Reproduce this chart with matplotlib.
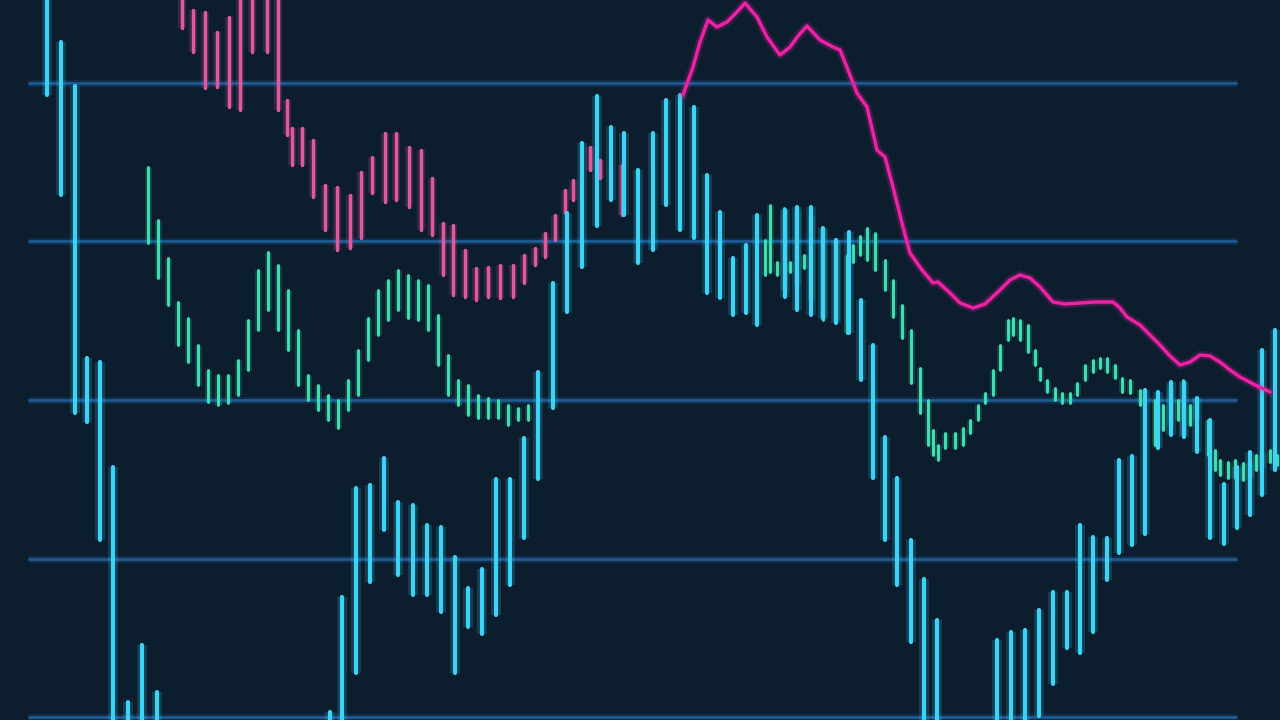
import matplotlib
matplotlib.use("Agg")
import matplotlib.pyplot as plt

# Colours
BG = "#0c1d2e"
GRID = "#1d5b94"
CYAN = "#3cd4f6"
GREEN = "#3fe3b2"
PINK = "#e2589f"
MAGENTA = "#ee20a6"

# Price levels are read in screen units (axis is inverted)
grid_levels = [83, 241, 400, 559, 717]

# Cyan candles: time, top, bottom
cyan_t = [47, 61, 75, 87, 100, 113, 128, 142, 157, 330, 342, 356, 370, 384, 398, 413, 427, 441,
          455, 468, 482, 496, 510, 524, 538, 553, 567, 582, 597, 611, 624, 638, 653, 666, 680,
          694, 707, 720, 733, 746, 757, 785, 797, 811, 823, 836, 849, 861, 873, 885, 897,
          911, 924, 937, 997, 1011, 1025, 1039, 1053, 1067, 1080, 1093, 1107, 1119, 1132, 1145,
          1158, 1171, 1184, 1197, 1210, 1224, 1237, 1250, 1262, 1275]
cyan_top = [-5, 42, 86, 358, 362, 467, 702, 645, 692, 712, 597, 488, 485, 458, 502, 505, 525, 527,
            557, 588, 569, 479, 479, 438, 372, 283, 213, 143, 96, 127, 133, 170, 133, 100, 95,
            107, 175, 212, 258, 245, 215, 210, 207, 207, 228, 240, 232, 300, 345, 437, 478,
            540, 579, 620, 640, 632, 630, 610, 592, 592, 525, 537, 538, 460, 456, 390,
            392, 382, 382, 398, 420, 484, 467, 452, 350, 330]
cyan_bot = [95, 195, 413, 422, 540, 730, 730, 730, 730, 730, 730, 673, 582, 530, 575, 595, 595, 612,
            673, 627, 634, 615, 585, 538, 479, 408, 312, 267, 226, 200, 215, 263, 250, 205, 230,
            238, 293, 298, 315, 313, 325, 297, 310, 315, 318, 323, 333, 380, 478, 540, 585,
            642, 730, 730, 730, 730, 720, 716, 684, 648, 653, 632, 580, 553, 545, 534,
            448, 435, 437, 452, 538, 544, 528, 515, 495, 470]

# Green candles: time, top, bottom
green_t = [148, 158, 168, 178, 188, 198, 208, 218, 228, 238, 248, 258, 268, 278, 288, 298, 308,
           318, 328, 338, 348, 358, 368, 378, 388, 398, 408, 418, 428, 438, 448, 458, 468, 478,
           488, 498, 508, 518, 528,
           765, 770, 777, 784, 790, 797, 804, 811, 823, 836, 847, 853, 860, 867, 875, 885, 893,
           902, 911, 920, 928, 933, 938, 945, 955, 963, 970, 978, 985, 993, 1000, 1008, 1013,
           1020, 1028, 1035, 1040, 1047, 1055, 1062, 1070, 1077, 1085, 1093, 1100, 1107, 1115,
           1122, 1130, 1140, 1155, 1163, 1170, 1178, 1183, 1190, 1196, 1208, 1215, 1220, 1228,
           1235, 1243, 1250, 1256, 1262, 1270, 1277]
green_top = [167, 220, 258, 302, 318, 345, 370, 375, 375, 360, 320, 270, 252, 265, 290, 330, 375,
             385, 395, 400, 380, 350, 318, 290, 280, 270, 275, 280, 285, 315, 355, 380, 385, 395,
             398, 400, 405, 408, 405,
             240, 205, 262, 208, 262, 210, 255, 215, 228, 240, 255, 245, 236, 228, 233, 260, 280,
             305, 330, 368, 400, 430, 445, 433, 433, 428, 420, 405, 393, 370, 345, 320, 318,
             320, 325, 350, 368, 380, 388, 393, 393, 383, 365, 360, 358, 358, 365,
             378, 380, 390, 400, 405, 385, 400, 380, 405, 398, 420, 450, 460, 462,
             460, 463, 462, 455, 452, 450, 455]
green_bot = [243, 278, 305, 345, 362, 385, 402, 405, 403, 395, 370, 330, 310, 330, 350, 385, 400,
             410, 420, 428, 410, 395, 360, 335, 320, 310, 318, 320, 330, 365, 395, 405, 415, 418,
             418, 418, 425, 420, 420,
             275, 272, 275, 290, 272, 285, 268, 300, 320, 320, 333, 262, 255, 260, 270, 290, 317,
             338, 383, 413, 445, 455, 460, 448, 448, 445, 433, 420, 403, 395, 370, 340, 335,
             340, 352, 365, 380, 392, 400, 403, 403, 395, 380, 372, 368, 372, 378,
             392, 393, 405, 445, 430, 425, 420, 435, 425, 420, 455, 470, 475, 478,
             478, 480, 478, 470, 467, 462, 465]

# Pink candles: time, top, bottom
pink_t = [182, 193, 205, 217, 229, 240, 252, 267, 278, 287, 292, 302, 313, 325, 337, 350, 361, 372,
          385, 396, 409, 421, 432, 443, 453, 465, 476, 488, 500, 513, 524, 535, 545, 555, 565,
          573, 590, 600, 622]
pink_top = [-5, 10, 12, 32, 17, -5, -5, -5, -5, 100, 128, 128, 140, 185, 187, 195, 172, 157,
            133, 133, 147, 150, 178, 223, 225, 250, 268, 267, 265, 265, 255, 248, 233, 215, 190,
            180, 147, 160, 165]
pink_bot = [28, 52, 88, 87, 107, 110, 52, 52, 110, 135, 165, 165, 197, 230, 250, 248, 238, 193,
            202, 200, 207, 230, 235, 275, 295, 297, 300, 297, 298, 297, 283, 265, 257, 240, 213,
            200, 170, 178, 215]

# Pink moving-average line
line_t = [683, 693, 700, 708, 717, 727, 736, 745, 757, 767, 780, 790, 798, 807, 820, 833, 840,
          848, 857, 867, 877, 885, 893, 903, 910, 922, 933, 938, 950, 960, 973, 985, 1000,
          1010, 1020, 1030, 1040, 1053, 1065, 1080, 1095, 1113, 1120, 1127, 1140, 1150, 1160,
          1170, 1180, 1190, 1200, 1210, 1220, 1230, 1240, 1255, 1270]
line_y = [95, 67, 42, 20, 27, 22, 13, 3, 17, 37, 55, 47, 36, 26, 40, 47, 50, 70, 93, 107, 150, 157,
          187, 227, 253, 270, 283, 282, 293, 303, 308, 304, 290, 280, 275, 278, 287, 302, 304,
          303, 302, 302, 308, 317, 325, 335, 345, 356, 365, 362, 355, 356, 362, 370, 377,
          385, 392]

fig = plt.figure(figsize=(12.8, 7.2), dpi=100, facecolor=BG)
ax = fig.add_axes([0, 0, 1, 1])
ax.set_facecolor(BG)

# horizontal price levels
ax.hlines(grid_levels, 28, 1237, color=GRID, lw=5, alpha=0.25, zorder=1)
ax.hlines(grid_levels, 28, 1237, color=GRID, lw=2.0, zorder=1)


def draw_candles(t, top, bot, color, lw):
    # soft glow under each bar, then the bar itself
    ax.vlines(t, top, bot, color=color, lw=lw * 2.4, alpha=0.18, zorder=2)
    ax.vlines(t, top, bot, color=color, lw=lw, capstyle="round", zorder=3)


draw_candles(pink_t, pink_top, pink_bot, PINK, 2.5)
draw_candles(green_t, green_top, green_bot, GREEN, 2.1)
draw_candles(cyan_t, cyan_top, cyan_bot, CYAN, 3.0)

ax.plot(line_t, line_y, color=MAGENTA, lw=6, alpha=0.2, zorder=4,
        solid_joinstyle="round")
ax.plot(line_t, line_y, color=MAGENTA, lw=2.5, solid_capstyle="round",
        solid_joinstyle="round", zorder=5)

ax.set_xlim(0, 1280)
ax.set_ylim(720, 0)
ax.axis("off")

fig.savefig("out.png", dpi=100, facecolor=BG)
